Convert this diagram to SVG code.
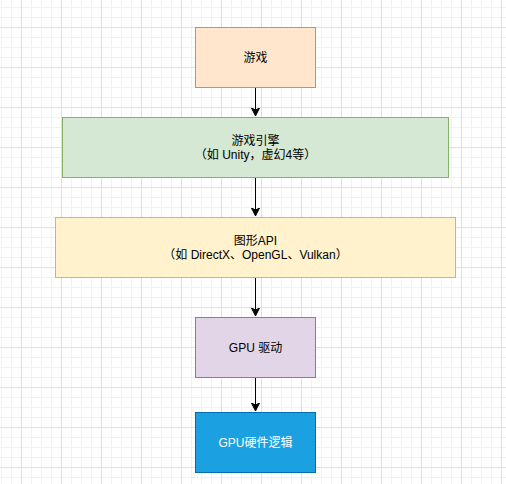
<svg xmlns="http://www.w3.org/2000/svg" width="506" height="484" viewBox="0 0 506 484">
  <defs>
    <pattern id="minor" patternUnits="userSpaceOnUse" x="1" y="7" width="10" height="10">
      <path d="M0 0.5 H10 M0.5 0 V10" fill="none" stroke="#f2f2f2" stroke-width="1"/>
    </pattern>
    <pattern id="major" patternUnits="userSpaceOnUse" x="21" y="27" width="40" height="40">
      <path d="M0 0.5 H40 M0.5 0 V40" fill="none" stroke="#e0e0e0" stroke-width="1"/>
    </pattern>
    <marker id="arrow" markerWidth="10" markerHeight="10" refX="8" refY="4" orient="auto" markerUnits="userSpaceOnUse" viewBox="0 0 10 8">
      <path d="M0 0 L8 4 L0 8 L2 4 Z" fill="#000000" stroke="#000000" stroke-width="1"/>
    </marker>
    <style>
      .lbl { font-family: "Liberation Sans", Arial, "Noto Sans CJK SC", sans-serif; font-size: 12px; text-anchor: middle; dominant-baseline: central; fill: #000000; }
      .conn { stroke: #000000; stroke-width: 1; fill: none; }
    </style>
  </defs>
  <rect width="506" height="484" fill="#ffffff"/>
  <rect width="506" height="484" fill="url(#minor)"/>
  <rect width="506" height="484" fill="url(#major)"/>

  <g id="connectors">
    <path class="conn" d="M255.5 87.5 V116" marker-end="url(#arrow)"/>
    <path class="conn" d="M255.5 177.5 V216" marker-end="url(#arrow)"/>
    <path class="conn" d="M255.5 277.5 V316" marker-end="url(#arrow)"/>
    <path class="conn" d="M255.5 377.5 V411" marker-end="url(#arrow)"/>
  </g>

  <g id="node-game">
    <rect x="195.5" y="27.5" width="120" height="60" fill="#ffe6cc" stroke="#d79b00"/>
    <text class="lbl" x="255.5" y="57.5">游戏</text>
  </g>
  <g id="node-engine">
    <rect x="62.5" y="117.5" width="386" height="60" fill="#d5e8d4" stroke="#82b366"/>
    <text class="lbl" x="255.5" y="141">游戏引擎</text>
    <text class="lbl" x="255.5" y="155">（如 Unity，虚幻4等）</text>
  </g>
  <g id="node-api">
    <rect x="55.5" y="217.5" width="400" height="60" fill="#fff2cc" stroke="#d6b656"/>
    <text class="lbl" x="255.5" y="241">图形API</text>
    <text class="lbl" x="255.5" y="255">（如 DirectX、OpenGL、Vulkan）</text>
  </g>
  <g id="node-driver">
    <rect x="195.5" y="317.5" width="120" height="60" fill="#e1d5e7" stroke="#9673a6"/>
    <text class="lbl" x="255.5" y="347.5">GPU 驱动</text>
  </g>
  <g id="node-hw">
    <rect x="195.5" y="412.5" width="120" height="60" fill="#1ba1e2" stroke="#006eaf"/>
    <text class="lbl" x="255.5" y="442.5" style="fill:#ffffff">GPU硬件逻辑</text>
  </g>
</svg>
